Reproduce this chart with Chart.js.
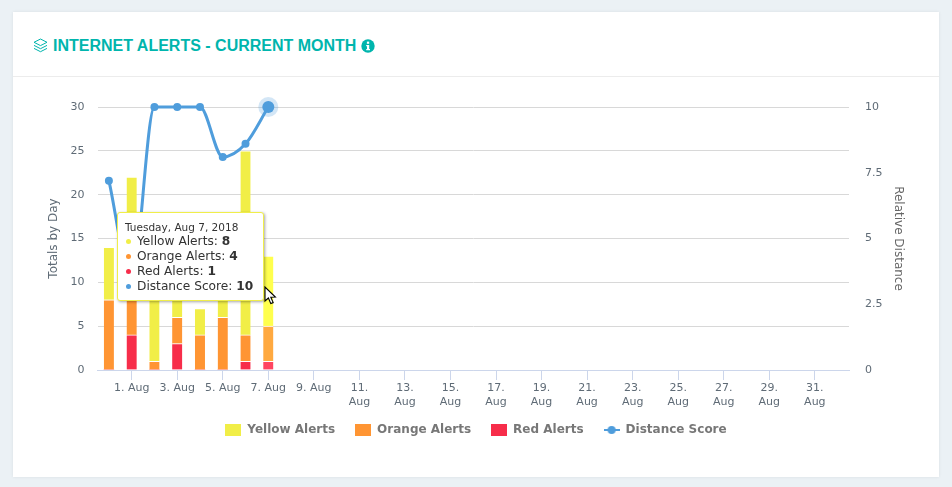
<!DOCTYPE html>
<html>
<head>
<meta charset="utf-8">
<title>Internet Alerts</title>
<script src="https://cdn.jsdelivr.net/npm/chart.js@4"></script>
<style>
  html, body { margin: 0; padding: 0; width: 952px; height: 487px; overflow: hidden; background: #ebf1f5; }
  .card { position: absolute; left: 13px; top: 12px; width: 926px; height: 465px; background: #fff; box-shadow: 0 0 3px rgba(0,0,0,0.08); }
  .head { position: absolute; left: 0; top: 64px; width: 926px; height: 1px; background: #ececec; }
  h3 { position: absolute; left: 40px; top: 25px; margin: 0; font: bold 16px/18px "Liberation Sans", sans-serif; color: #00b5ad; white-space: nowrap; }
  .icon { position: absolute; }
  canvas { position: absolute; left: 0; top: 0; }
  #tip { position: absolute; box-sizing: border-box; width: 147px; height: 89px; background: #fff; border: 1px solid #f0ee4a;
    border-radius: 3px; box-shadow: 1px 1px 3px rgba(0,0,0,0.35); padding: 7px 0 0 7px; color: #333;
    font: 12.2px/15px "DejaVu Sans", sans-serif; white-space: nowrap; }
  #tip .when { font-size: 10.5px; line-height: 14px; }
  #tip i { display: inline-block; width: 5px; height: 5px; border-radius: 50%; margin: 0 6px 1px 1px; vertical-align: middle; }
  #cursor { position: absolute; left: 264px; top: 286px; }
</style>
</head>
<body>
<div class="card">
  <div class="head"></div>
  <h3>INTERNET ALERTS - CURRENT MONTH</h3>
</div>
<svg class="icon" style="left:33px;top:38px" width="15" height="15" viewBox="0 0 15 15" fill="none" stroke="#00b5ad" stroke-width="1">
  <path d="M7.5 1 L14 4.3 L7.5 7.6 L1 4.3 Z"/><path d="M1 7.4 L7.5 10.7 L14 7.4"/><path d="M1 10.4 L7.5 13.7 L14 10.4"/>
</svg>
<svg class="icon" style="left:361px;top:39px" width="14" height="14" viewBox="0 0 14 14">
  <circle cx="7" cy="7" r="6.7" fill="#00b5ad"/>
  <rect x="5.9" y="2.6" width="2.3" height="2.2" fill="#fff"/>
  <path d="M5.2 5.9 H8.2 V10 H9 V11.3 H5.2 V10 H6 V7.2 H5.2 Z" fill="#fff"/>
</svg>
<canvas id="alerts" width="952" height="487"></canvas>
<div id="tip" style="display:none"></div>
<svg id="cursor" width="14" height="20" viewBox="0 0 14 20">
  <path d="M1 1 V15 L4.4 12 L6.8 17.6 L9.2 16.6 L6.8 11.2 L11.4 11 Z" fill="#fff" stroke="#000" stroke-width="1.1"/>
</svg>
<script>
// category 0 is the last day of July, the axis runs on into September
const categories = ['31. Jul', '1. Aug', '2. Aug', '3. Aug', '4. Aug', '5. Aug', '6. Aug', '7. Aug', '8. Aug', '9. Aug',
  '10. Aug', '11. Aug', '12. Aug', '13. Aug', '14. Aug', '15. Aug', '16. Aug', '17. Aug', '18. Aug', '19. Aug', '20. Aug',
  '21. Aug', '22. Aug', '23. Aug', '24. Aug', '25. Aug', '26. Aug', '27. Aug', '28. Aug', '29. Aug', '30. Aug', '31. Aug', '1. Sep'];
const tickLabels = ['', '1. Aug', '', '3. Aug', '', '5. Aug', '', '7. Aug', '', '9. Aug',
  '', ['11.', 'Aug'], '', ['13.', 'Aug'], '', ['15.', 'Aug'], '', ['17.', 'Aug'], '', ['19.', 'Aug'], '',
  ['21.', 'Aug'], '', ['23.', 'Aug'], '', ['25.', 'Aug'], '', ['27.', 'Aug'], '', ['29.', 'Aug'], '', ['31.', 'Aug'], ''];
const redAlerts = [0, 4, 0, 3, 0, 0, 1, 1];
const orangeAlerts = [8, 4, 1, 3, 4, 6, 3, 4];
const yellowAlerts = [6, 14, 12, 4, 3, 4, 21, 8];
const distanceScore = [7.2, 3.4, 10, 10, 10, 8.1, 8.6, 10];
const leftTicks = [0, 5, 10, 15, 20, 25, 30];
const rightTicks = [0, 2.5, 5, 7.5, 10];
const hoverIndex = 7;
const hoverTitle = 'Tuesday, Aug 7, 2018';
const legendOrder = ['Yellow Alerts', 'Orange Alerts', 'Red Alerts', 'Distance Score'];

const YELLOW = '#f1ee47', ORANGE = '#ff9533', RED = '#f72d4a', BLUE = '#4f9ddc';
const TICK_FONT = { family: '"DejaVu Sans", sans-serif', size: 11 };
const TICK_COLOR = '#5f6b76';

function swatch(color) {
  const c = document.createElement('canvas');
  c.width = 16; c.height = 12;
  const g = c.getContext('2d');
  g.fillStyle = color;
  g.fillRect(0, 0, 16, 12);
  return c;
}

function lineSwatch(color) {
  const c = document.createElement('canvas');
  c.width = 16; c.height = 12;
  const g = c.getContext('2d');
  g.fillStyle = color;
  g.fillRect(0, 5, 16, 2);
  g.beginPath();
  g.arc(8, 6, 4, 0, Math.PI * 2);
  g.fill();
  return c;
}

const legendIcons = {
  'Yellow Alerts': swatch(YELLOW),
  'Orange Alerts': swatch(ORANGE),
  'Red Alerts': swatch(RED),
  'Distance Score': lineSwatch(BLUE)
};

function barSet(label, values, color, hover) {
  return {
    label: label, data: values, yAxisID: 'y', order: 2,
    backgroundColor: color, hoverBackgroundColor: hover,
    borderColor: '#fff', hoverBorderColor: '#fff',
    borderWidth: { top: 1 }, hoverBorderWidth: { top: 1 }, borderSkipped: false, barThickness: 10
  };
}

function drawTip(ctx) {
  const tip = document.getElementById('tip');
  const t = ctx.tooltip;
  if (!t.opacity || !t.dataPoints) { tip.style.display = 'none'; return; }
  const colors = { 'Yellow Alerts': YELLOW, 'Orange Alerts': ORANGE, 'Red Alerts': RED, 'Distance Score': BLUE };
  const rows = t.dataPoints.slice().sort((a, b) =>
    legendOrder.indexOf(a.dataset.label) - legendOrder.indexOf(b.dataset.label));
  tip.innerHTML = '<div class="when">' + hoverTitle + '</div>' + rows.map(p =>
    '<div><i style="background:' + colors[p.dataset.label] + '"></i>' + p.dataset.label + ': <b>' + p.raw + '</b></div>').join('');
  tip.style.left = '117px';
  tip.style.top = '212px';
  tip.style.display = 'block';
}

// pale ring round the hovered line point
const haloPlugin = {
  id: 'halo',
  beforeDatasetsDraw(chart) {
    const pt = chart.getDatasetMeta(3).data[hoverIndex];
    const g = chart.ctx;
    g.save();
    g.fillStyle = 'rgba(79,157,220,0.25)';
    g.beginPath();
    g.arc(pt.x, pt.y, 10, 0, Math.PI * 2);
    g.fill();
    g.restore();
  }
};

// the x axis clips its two-line labels to its own box, so it keeps the full
// height and the legend is lifted over the spare room underneath the labels
const legendLift = {
  id: 'legendLift',
  afterLayout(chart) {
    chart.legend.top -= 10;
    chart.legend.bottom -= 10;
  }
};

const chart = new Chart(document.getElementById('alerts'), {
  type: 'bar',
  data: {
    labels: categories,
    datasets: [
      barSet('Red Alerts', redAlerts, RED, '#ff4560'),
      barSet('Orange Alerts', orangeAlerts, ORANGE, '#ffa940'),
      barSet('Yellow Alerts', yellowAlerts, YELLOW, '#ffff4d'),
      {
        type: 'line', label: 'Distance Score', data: distanceScore, yAxisID: 'y1', order: 1, clip: false,
        borderColor: BLUE, backgroundColor: BLUE, borderWidth: 3, tension: 0.4, cubicInterpolationMode: 'monotone',
        pointRadius: 4, pointHoverRadius: 6, pointBorderWidth: 0, pointHoverBorderWidth: 0,
        pointBackgroundColor: BLUE, pointHoverBackgroundColor: BLUE
      }
    ]
  },
  plugins: [haloPlugin, legendLift],
  options: {
    responsive: false,
    animation: false,
    events: [],
    layout: { padding: { top: 107, bottom: 31, left: 0, right: 0 } },
    plugins: {
      legend: {
        position: 'bottom',
        labels: {
          usePointStyle: true,
          pointStyleWidth: 16,
          padding: 20,
          color: '#777',
          font: { family: '"DejaVu Sans", sans-serif', size: 12, weight: 'bold' },
          sort: (a, b) => legendOrder.indexOf(a.text) - legendOrder.indexOf(b.text),
          generateLabels(c) {
            return Chart.defaults.plugins.legend.labels.generateLabels(c).map(item => {
              item.pointStyle = legendIcons[item.text];
              return item;
            });
          }
        }
      },
      tooltip: { enabled: false, mode: 'index', external: drawTip }
    },
    scales: {
      x: {
        stacked: true,
        offset: true,
        afterFit(s) { s.height = 44; },
        grid: {
          offset: false,
          drawOnChartArea: false,
          tickLength: 10,
          tickColor: c => tickLabels[c.index] ? '#ccd6eb' : 'transparent'
        },
        border: { color: '#ccd6eb' },
        ticks: {
          autoSkip: false, maxRotation: 0, padding: 2,
          color: TICK_COLOR, font: TICK_FONT,
          callback: (v, i) => tickLabels[i]
        }
      },
      y: {
        stacked: true,
        min: 0, max: 30,
        afterFit(s) { s.width = 97.5; },
        afterBuildTicks(s) { s.ticks = leftTicks.map(v => ({ value: v })); },
        grid: { color: '#d8d8d8', drawTicks: false },
        border: { display: false },
        ticks: { padding: 13, color: TICK_COLOR, font: TICK_FONT },
        title: { display: true, text: 'Totals by Day', color: '#5f6b76', padding: { top: 47, bottom: 0 },
          font: { family: '"DejaVu Sans", sans-serif', size: 12 } }
      },
      y1: {
        position: 'right',
        min: 0, max: 10,
        afterFit(s) { s.width = 103; },
        afterBuildTicks(s) { s.ticks = rightTicks.map(v => ({ value: v })); },
        grid: { display: false, drawTicks: false },
        border: { display: false },
        ticks: { padding: 16, color: TICK_COLOR, font: TICK_FONT, callback: v => String(v) },
        title: { display: true, text: 'Relative Distance', color: '#666', padding: { top: 47, bottom: 0 },
          font: { family: '"DejaVu Sans", sans-serif', size: 12 } }
      }
    }
  }
});

// the reference was captured with the pointer on the 7 Aug column
const active = chart.data.datasets.map((d, i) => ({ datasetIndex: i, index: hoverIndex }));
chart.setActiveElements(active);
chart.tooltip.setActiveElements(active, { x: 268, y: 287 });
chart.update();
</script>
</body>
</html>
